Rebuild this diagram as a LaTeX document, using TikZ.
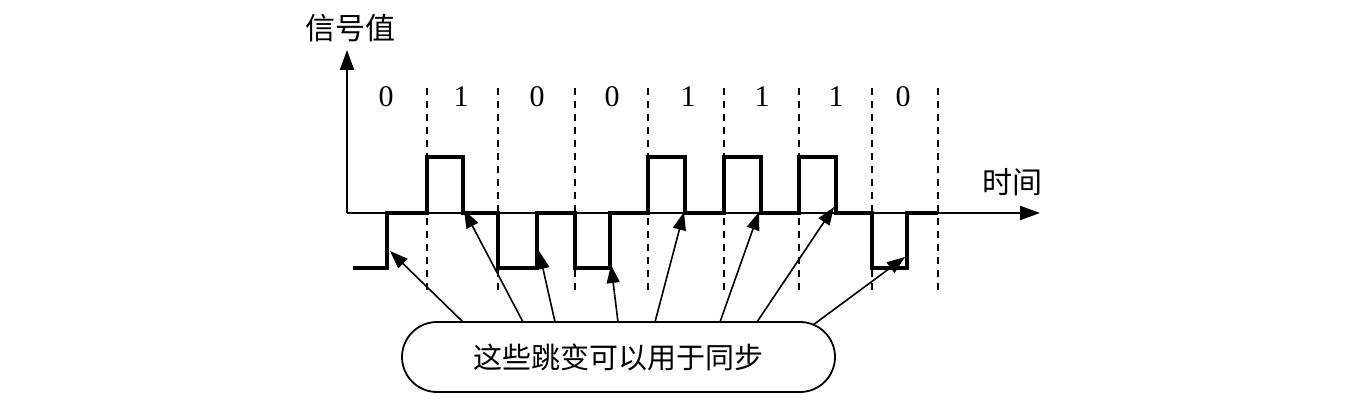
\documentclass[tikz,border=0pt]{standalone}
\usepackage{fontspec}
\setmainfont{Liberation Serif}
\newfontfamily\cjk{Noto Sans CJK SC}
\usetikzlibrary{arrows.meta,shapes.misc}
\begin{document}
\begin{tikzpicture}[x=0.5pt,y=-0.5pt,
  axis/.style={line width=1.1pt,-{Triangle[length=10pt,width=7pt]}},
  sig/.style={line width=1.8pt,line join=miter},
  gridline/.style={line width=1.1pt,dash pattern=on 3.5pt off 3pt},
  pointer/.style={line width=0.8pt,-{Triangle[length=9pt,width=6.5pt]}},
  bit/.style={font=\fontsize{15}{17}\selectfont},
  lbl/.style={font=\cjk\fontsize{15}{17}\selectfont},
  note/.style={draw,line width=0.9pt,rounded rectangle,minimum width=216.5pt,
    minimum height=35pt,inner sep=0pt,font=\cjk\fontsize{14.5}{16}\selectfont}]
\useasboundingbox (0,0) rectangle (1350,417);
% axes
\coordinate (O) at (347,213);
\coordinate (ytip) at (347,50);
\coordinate (xtip) at (1040,213);
\draw[axis] (O) -- (ytip);
\draw[axis] (O) -- (xtip);
\node[lbl] (ylab) at (350,28) {信号值};
\node[lbl] (xlab) at (1012,182) {时间};
% dashed bit boundaries
\foreach \x in {427,498,575,648,724,799,872,938}
  \draw[gridline] (\x,88) -- (\x,296);
% bit labels
\foreach \x/\b [count=\i] in {386/0,461/1,537/0,612/0,688/1,762/1,836/1,903/0}
  \node[bit] (b\i) at (\x,97) {\b};
% signal
\draw[sig] (353,268) -- (387,268) -- (387,213) -- (427,213) -- (427,157)
  -- (463,157) -- (463,213) -- (498,213) -- (498,268) -- (537,268)
  -- (537,213) -- (575,213) -- (575,268) -- (610,268) -- (610,213)
  -- (648,213) -- (648,157) -- (685,157) -- (685,213) -- (724,213)
  -- (724,157) -- (761,157) -- (761,213) -- (799,213) -- (799,157)
  -- (836,157) -- (836,213) -- (872,213) -- (872,268) -- (907,268)
  -- (907,213) -- (938,213);
% note box
\node[note] (box) at (618.5,357) {这些跳变可以用于同步};
% pointer coordinates
\coordinate (t1) at (390,251); \coordinate (s1) at (463,322);
\coordinate (t2) at (464,210); \coordinate (s2) at (523,322);
\coordinate (t3) at (539,251); \coordinate (s3) at (555,322);
\coordinate (t4) at (611,265); \coordinate (s4) at (618,322);
\coordinate (t5) at (684,212); \coordinate (s5) at (655,322);
\coordinate (t6) at (759,212); \coordinate (s6) at (720,322);
\coordinate (t7) at (834,207); \coordinate (s7) at (757,322);
\coordinate (t8) at (905,257); \coordinate (s8) at (813,325);
\foreach \i in {1,...,8}
  \draw[pointer] (s\i) -- (t\i);
\end{tikzpicture}
\end{document}
